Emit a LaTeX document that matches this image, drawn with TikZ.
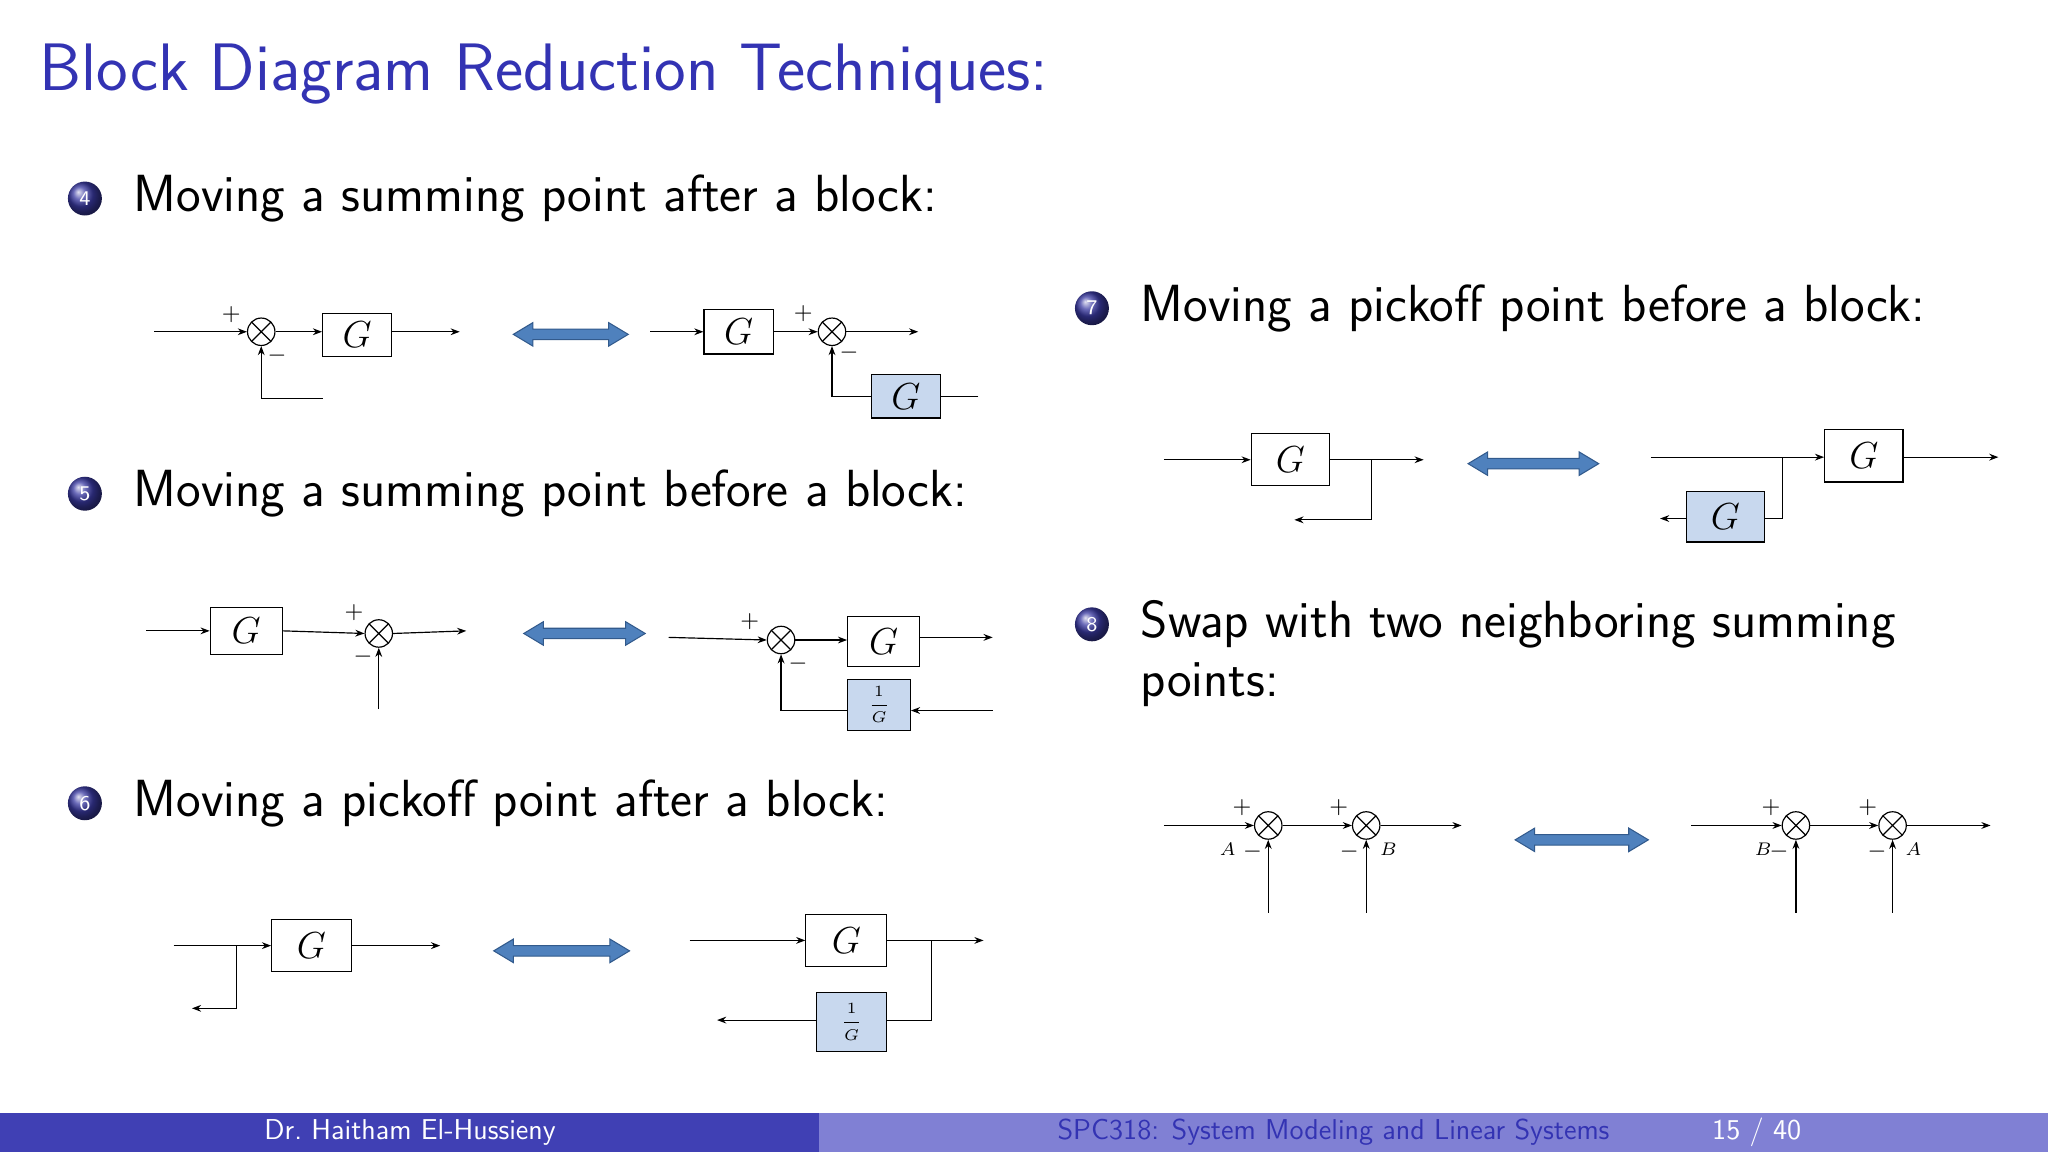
\documentclass[tikz,border=0pt]{standalone}
\usetikzlibrary{arrows.meta,calc}
\definecolor{titleblue}{RGB}{51,51,179}
\definecolor{footdark}{RGB}{64,64,180}
\definecolor{footlight}{RGB}{128,128,212}
\definecolor{lightblk}{RGB}{200,216,238}
\definecolor{arrfill}{RGB}{79,129,189}
\definecolor{arrdraw}{RGB}{50,90,140}
\tikzset{
 ln/.style={line width=0.45pt},
 ar/.style={ln,-{Stealth[length=3.5pt,width=2.6pt]}},
 blk/.style={draw,ln,fill=white,inner sep=0pt,font=\fontsize{15}{15}\selectfont},
 bblk/.style={blk,fill=lightblk},
 sumn/.style={draw,ln,circle,minimum size=10.5pt,inner sep=0pt,
   path picture={\draw[ln] (path picture bounding box.south west)--(path picture bounding box.north east)
   (path picture bounding box.north west)--(path picture bounding box.south east);}},
 sg/.style={inner sep=0pt,font=\fontsize{9}{9}\selectfont},
 ball/.style={circle,ball color=footdark!90!black,inner sep=0pt,minimum size=13pt,text=white,font=\sffamily\fontsize{8}{8}\selectfont},
 item/.style={anchor=west,inner sep=0pt,font=\sffamily\fontsize{20}{20}\selectfont},
 fr/.style={inner sep=0pt,font=\fontsize{7}{7}\selectfont},
 ftxt/.style={font=\sffamily\fontsize{11}{11}\selectfont},
}
\newcommand{\dblarrow}[3]{% x1 x2 y
 \fill[arrfill,draw=arrdraw,line width=0.4pt] (#1,#3)--(#1+15,#3-9)--(#1+15,#3-4)--(#2-15,#3-4)--(#2-15,#3-9)--(#2,#3)--(#2-15,#3+9)--(#2-15,#3+4)--(#1+15,#3+4)--(#1+15,#3+9)--cycle;}
\newcommand{\invg}{\fontsize{6.5}{6.5}\selectfont$\displaystyle\frac{1}{G}$}
\begin{document}
\begin{tikzpicture}[x=0.5pt,y=-0.5pt]
\useasboundingbox (0,0) rectangle (1568,882);
\fill[white] (0,0) rectangle (1568,882);
% title
\node[anchor=west,inner sep=0pt,text=titleblue,font=\sffamily\fontsize{25.7}{26}\selectfont] (title) at (30,57) {Block Diagram Reduction Techniques:};
% footer
\fill[footdark] (0,852) rectangle (627,882);
\fill[footlight] (627,852) rectangle (1568,882);
\node[text=white,ftxt] (fl) at (314,867) {Dr.\ Haitham El-Hussieny};
\node[text=titleblue,ftxt] (fr) at (1021,867) {SPC318: System Modeling and Linear Systems};
\node[text=white,ftxt] (fp) at (1345,867) {15 / 40};
% items
\node[ball] (b4) at (65,152) {4}; \node[item] (t4) at (102,152) {Moving a summing point after a block:};
\node[ball] (b5) at (65,378) {5}; \node[item] (t5) at (102,378) {Moving a summing point before a block:};
\node[ball] (b6) at (65,615) {6}; \node[item] (t6) at (102,615) {Moving a pickoff point after a block:};
\node[ball] (b7) at (836,236) {7}; \node[item] (t7) at (873,236) {Moving a pickoff point before a block:};
\node[ball] (b8) at (836,478) {8}; \node[item] (t8) at (873,478) {Swap with two neighboring summing};
\node[item] (t8b) at (873,524) {points:};
% ---- 4 left
\coordinate (i4) at (118,254);
\node[sumn] (s4) at (200,254) {};
\node[blk,minimum width=26.5pt,minimum height=16.5pt] (g4) at (273.5,256.5) {$G$};
\coordinate (o4) at (352,254);
\draw[ar] (i4)--(s4.west);
\draw[ar] (s4.east)--(s4.east-|g4.west);
\draw[ar] (g4.east|-s4)--(o4);
\coordinate (f4) at (247,305);
\draw[ar] (f4)-|(s4.south);
\node[sg] at (177,241) {$+$}; \node[sg] at (212,272) {$-$};
\dblarrow{393}{481}{256}
% ---- 4 right
\coordinate (i4r) at (498,254);
\node[blk,minimum width=26.5pt,minimum height=17pt] (g4r) at (565.5,254) {$G$};
\node[sumn] (s4r) at (637,254) {};
\coordinate (o4r) at (703,254);
\draw[ar] (i4r)--(g4r.west);
\draw[ar] (g4r.east)--(s4r.west);
\draw[ar] (s4r.east)--(o4r);
\node[bblk,minimum width=26.5pt,minimum height=16.5pt] (h4r) at (693.5,303.5) {$G$};
\coordinate (e4r) at (749,303.5);
\draw[ln] (e4r)--(h4r.east);
\draw[ar] (h4r.west)-|(s4r.south);
\node[sg] at (615,240) {$+$}; \node[sg] at (650,270) {$-$};
% ---- 5 left
\coordinate (i5) at (112,483);
\node[blk,minimum width=27.5pt,minimum height=18pt] (g5) at (188.5,483) {$G$};
\node[sumn] (s5) at (290,485) {};
\coordinate (o5) at (357,483);
\draw[ar] (i5)--(g5.west);
\draw[ar] (g5.east)--(s5.west);
\draw[ar] (s5.east)--(o5);
\coordinate (f5) at (290,543);
\draw[ar] (f5)--(s5.south);
\node[sg] at (271,469) {$+$}; \node[sg] at (278,503) {$-$};
\dblarrow{401}{494}{485}
% ---- 5 right
\coordinate (i5r) at (512,488);
\node[sumn] (s5r) at (598,490) {};
\node[blk,minimum width=27.5pt,minimum height=19pt] (g5r) at (676.5,491) {$G$};
\coordinate (o5r) at (760,488);
\draw[ar] (i5r)--(s5r.west);
\draw[ar] (s5r.east)--(s5r.east-|g5r.west);
\draw[ar] (g5r.east|-o5r)--(o5r);
\node[bblk,minimum width=24pt,minimum height=19.5pt] (h5r) at (673,539.5) {\invg};
\coordinate (e5r) at (760,544);
\draw[ar] (e5r)--(e5r-|h5r.east);
\draw[ar] (h5r.west|-e5r)-|(s5r.south);
\node[sg] at (574,476) {$+$}; \node[sg] at (611,508) {$-$};
% ---- 6 left
\coordinate (i6) at (133,724);
\node[blk,minimum width=30.5pt,minimum height=20pt] (g6) at (238.5,724) {$G$};
\coordinate (o6) at (337,724);
\coordinate (p6) at (181,724);
\coordinate (e6) at (147,772);
\draw[ar] (i6)--(g6.west);
\draw[ar] (g6.east)--(o6);
\draw[ar] (p6)|-(e6);
\dblarrow{378}{482}{728}
% ---- 6 right
\coordinate (i6r) at (528,720);
\node[blk,minimum width=31pt,minimum height=20pt] (g6r) at (648,720) {$G$};
\coordinate (o6r) at (753,720);
\coordinate (p6r) at (713,720);
\draw[ar] (i6r)--(g6r.west);
\draw[ar] (g6r.east)--(o6r);
\node[bblk,minimum width=27pt,minimum height=22.5pt] (h6r) at (652,782.5) {\invg};
\coordinate (e6r) at (549,781);
\draw[ln] (p6r)|-(h6r.east|-e6r);
\draw[ar] (h6r.west|-e6r)--(e6r);
% ---- 7 left
\coordinate (i7) at (891,352);
\node[blk,minimum width=30pt,minimum height=20pt] (g7) at (988,352) {$G$};
\coordinate (o7) at (1090,352);
\coordinate (p7) at (1050,352);
\coordinate (e7) at (991,398);
\draw[ar] (i7)--(g7.west);
\draw[ar] (g7.east)--(o7);
\draw[ar] (p7)|-(e7);
\dblarrow{1124}{1224}{355}
% ---- 7 right
\coordinate (i7r) at (1264,350);
\node[blk,minimum width=30pt,minimum height=20pt] (g7r) at (1427,349) {$G$};
\coordinate (o7r) at (1530,350);
\coordinate (p7r) at (1365,350);
\draw[ar] (i7r)--(i7r-|g7r.west);
\draw[ar] (g7r.east|-o7r)--(o7r);
\node[bblk,minimum width=30pt,minimum height=19.5pt] (h7r) at (1321,395.5) {$G$};
\coordinate (e7r) at (1271,397);
\draw[ln] (p7r)|-(h7r.east|-e7r);
\draw[ar] (h7r.west|-e7r)--(e7r);
% ---- 8 left
\coordinate (i8) at (891,632);
\node[sumn] (s8a) at (971,632) {};
\node[sumn] (s8b) at (1046,632) {};
\coordinate (o8) at (1119,632);
\draw[ar] (i8)--(s8a.west);
\draw[ar] (s8a.east)--(s8b.west);
\draw[ar] (s8b.east)--(o8);
\coordinate (f8a) at (971,699); \coordinate (f8b) at (1046,699);
\draw[ar] (f8a)--(s8a.south); \draw[ar] (f8b)--(s8b.south);
\node[sg] at (951,618) {$+$}; \node[sg] at (959,652) {$-$}; \node[fr] at (940,650) {$A$};
\node[sg] at (1025,618) {$+$}; \node[sg] at (1033,652) {$-$}; \node[fr] at (1063,650) {$B$};
\dblarrow{1160}{1262}{643}
% ---- 8 right
\coordinate (i8r) at (1295,632);
\node[sumn] (s8c) at (1375,632) {};
\node[sumn] (s8d) at (1449,632) {};
\coordinate (o8r) at (1524,632);
\draw[ar] (i8r)--(s8c.west);
\draw[ar] (s8c.east)--(s8d.west);
\draw[ar] (s8d.east)--(o8r);
\coordinate (f8c) at (1375,699); \coordinate (f8d) at (1449,699);
\draw[ar] (f8c)--(s8c.south); \draw[ar] (f8d)--(s8d.south);
\node[sg] at (1356,618) {$+$}; \node[sg] at (1362,652) {$-$}; \node[fr] at (1350,650) {$B$};
\node[sg] at (1430,618) {$+$}; \node[sg] at (1437,652) {$-$}; \node[fr] at (1465,650) {$A$};
\end{tikzpicture}
\end{document}
